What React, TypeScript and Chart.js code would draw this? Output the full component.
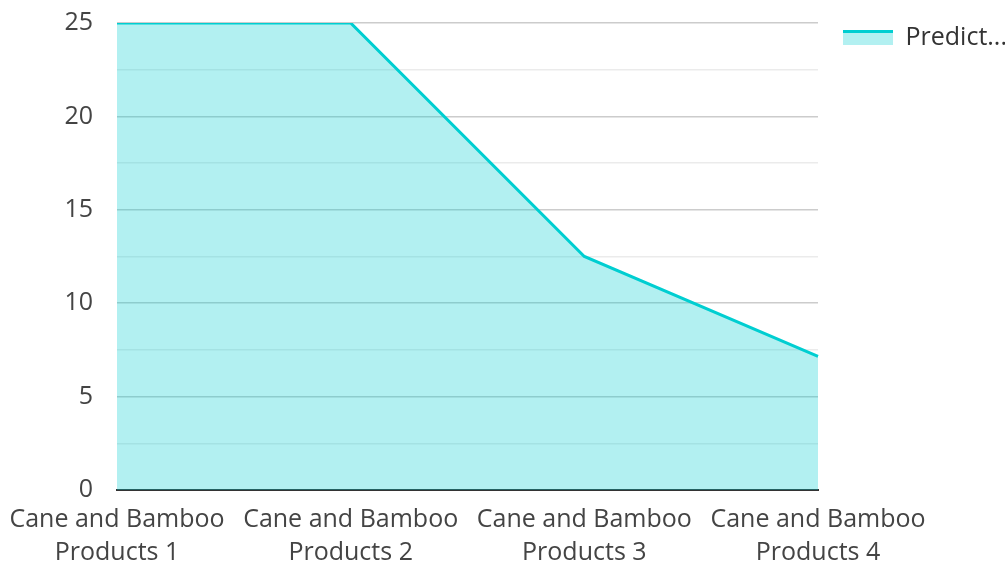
import React, { useEffect, useRef } from "react";
import { Chart, registerables } from "chart.js";

Chart.register(...registerables);

const categories: string[][] = [
  ["Cane and Bamboo", "Products 1"],
  ["Cane and Bamboo", "Products 2"],
  ["Cane and Bamboo", "Products 3"],
  ["Cane and Bamboo", "Products 4"],
];
const seriesName = "Predict...";
const values: number[] = [25, 25, 12.5, 7.15];
const yMin = 0;
const yMax = 25;
const yStep = 2.5;

const LINE = "#00CED1";
const FILL = "rgba(0, 206, 209, 0.3)";
const FONT = "'Open Sans', 'Noto Sans', sans-serif";
const FS = 25;

const legendLinePlugin = {
  id: "legendLine",
  afterDraw(chart: any) {
    const legend = chart.legend;
    if (!legend || !legend.legendHitBoxes) return;
    const ctx = chart.ctx;
    legend.legendHitBoxes.forEach((box: any) => {
      const bw = legend.options.labels.boxWidth;
      const bh = legend.options.labels.boxHeight;
      const top = box.top + (box.height - bh) / 2;
      ctx.save();
      ctx.strokeStyle = LINE;
      ctx.lineWidth = 3;
      ctx.beginPath();
      ctx.moveTo(box.left, top + 1.5);
      ctx.lineTo(box.left + bw, top + 1.5);
      ctx.stroke();
      ctx.restore();
    });
  },
};

export default function App() {
  const ref = useRef<HTMLCanvasElement | null>(null);
  useEffect(() => {
    if (!ref.current) return;
    const chart = new Chart(ref.current, {
      type: "line",
      data: {
        labels: categories,
        datasets: [
          {
            label: seriesName,
            data: values,
            borderColor: LINE,
            backgroundColor: FILL,
            borderWidth: 3,
            fill: "origin",
            tension: 0,
            pointRadius: 0,
            pointHoverRadius: 0,
          },
        ],
      },
      options: {
        animation: false,
        responsive: false,
        maintainAspectRatio: false,
        layout: { padding: 0 },
        plugins: {
          tooltip: { enabled: false },
          legend: {
            position: "right",
            align: "start",
            maxWidth: 187,
            labels: {
              boxWidth: 50,
              boxHeight: 15,
              font: { family: FONT, size: FS },
              color: "#333333",
              padding: 25,
              generateLabels: (c: any) =>
                c.data.datasets.map((d: any, i: number) => ({
                  text: d.label,
                  fillStyle: FILL,
                  strokeStyle: "rgba(0,0,0,0)",
                  lineWidth: 0,
                  datasetIndex: i,
                  fontColor: "#333333",
                })),
            },
          },
        },
        scales: {
          x: {
            offset: false,
            grid: { display: false, drawTicks: false },
            border: { display: true, color: "#333333", width: 2 },
            afterFit: (s: any) => {
              s.height = 72;
              s.paddingLeft = 0;
              s.paddingRight = 0;
            },
            ticks: {
              font: { family: FONT, size: FS, lineHeight: 1.3 },
              color: "#444444",
              padding: 14,
              maxRotation: 0,
              autoSkip: false,
            },
          },
          y: {
            min: yMin,
            max: yMax,
            border: { display: false },
            afterFit: (s: any) => {
              s.width = 117;
              s.paddingTop = 23;
              s.paddingBottom = 0;
            },
            grid: {
              drawTicks: false,
              color: (c: any) =>
                c.tick && c.tick.value % 5 === 0 ? "#cccccc" : "#ebebeb",
              lineWidth: 1.5,
            },
            ticks: {
              stepSize: yStep,
              font: { family: FONT, size: FS },
              color: "#444444",
              padding: 24,
              callback: (v: any) => (Number(v) % 5 === 0 ? String(v) : ""),
            },
          },
        },
      },
      plugins: [legendLinePlugin],
    });
    return () => chart.destroy();
  }, []);
  return (
    <div style={{ position: "absolute", left: 0, top: 0, width: 1005, height: 562, background: "#fff" }}>
      <canvas ref={ref} width={1005} height={562} />
    </div>
  );
}
